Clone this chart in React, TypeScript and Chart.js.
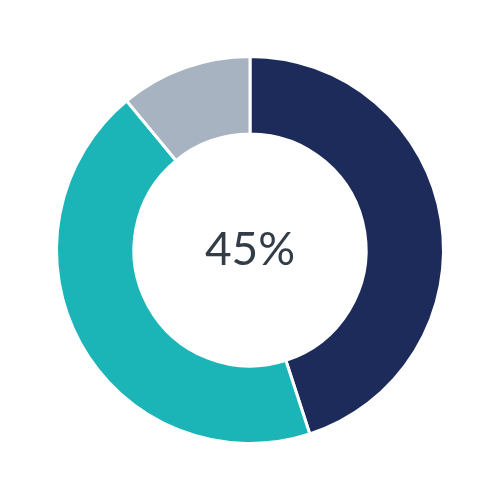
import React, { useEffect, useRef } from "react";
import { Chart, registerables } from "chart.js";

Chart.register(...registerables);

const labels = ["Navy", "Teal", "Gray"];
const values = [45, 44, 11];
const colors = ["#1c2b5a", "#1bb5b8", "#a8b3c2"];
const centerLabel = "45%";

export default function App() {
  const ref = useRef<HTMLCanvasElement | null>(null);
  useEffect(() => {
    if (!ref.current) return;
    const chart = new Chart(ref.current, {
      type: "doughnut",
      data: {
        labels,
        datasets: [
          {
            data: values,
            backgroundColor: colors,
            borderColor: "#ffffff",
            borderWidth: 3,
            hoverOffset: 0,
          },
        ],
      },
      options: {
        animation: false,
        responsive: false,
        cutout: "60%",
        layout: { padding: 55 },
        plugins: {
          legend: { display: false },
          tooltip: { enabled: false },
        },
      },
    });
    return () => chart.destroy();
  }, []);
  return (
    <div style={{ position: "fixed", left: 0, top: 0, width: 500, height: 500, background: "#fff" }}>
      <canvas ref={ref} width={500} height={500} style={{ width: 500, height: 500 }} />
      <div
        style={{
          position: "absolute",
          left: 0,
          top: 0,
          width: 500,
          height: 500,
          display: "flex",
          alignItems: "center",
          justifyContent: "center",
          fontFamily: "Lato, sans-serif",
          fontSize: 46,
          color: "#333d47",
          paddingBottom: 6,
          boxSizing: "border-box",
        }}
      >
        {centerLabel}
      </div>
    </div>
  );
}
